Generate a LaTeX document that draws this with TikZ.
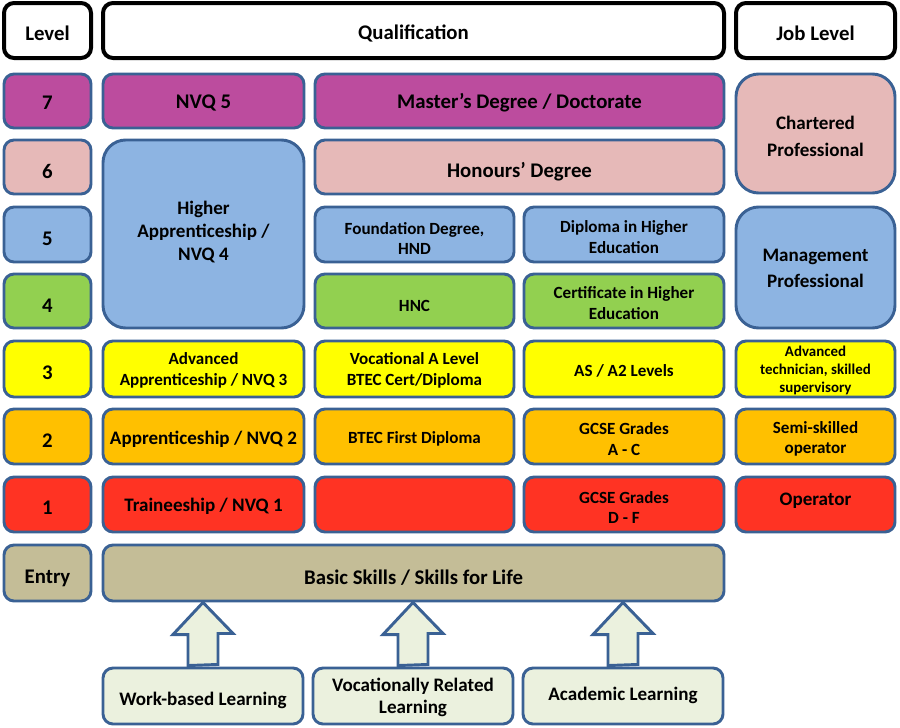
\documentclass[tikz,border=0pt]{standalone}
\usepackage{fontspec}
\setmainfont{Carlito}
\usetikzlibrary{calc}
\definecolor{bordc}{HTML}{3A6194}
\definecolor{cmag}{HTML}{BC4C9E}
\definecolor{cpink}{HTML}{E6B9B8}
\definecolor{cblue}{HTML}{8DB4E2}
\definecolor{cgreen}{HTML}{92D050}
\definecolor{cyel}{HTML}{FFFF00}
\definecolor{corange}{HTML}{FFC000}
\definecolor{cred}{HTML}{FF3323}
\definecolor{ctan}{HTML}{C4BD97}
\definecolor{clight}{HTML}{EBF1DE}
% name, x1, y1, x2, y2, shape style, text style, dy, text
\newcommand\qbox[9]{%
  \pgfmathsetmacro\qcx{(#2+#4)/2}\pgfmathsetmacro\qcy{(#3+#5)/2}%
  \pgfmathsetmacro\qty{(#3+#5)/2+#8}%
  \pgfmathsetmacro\qww{(#4-#2)*0.75}\pgfmathsetmacro\qhh{(#5-#3)*0.75}%
  \node[#6, minimum width=\qww pt, minimum height=\qhh pt] (#1) at (\qcx,\qcy) {};
  \node[txt, #7] (#1-t) at (\qcx,\qty) {#9};}
\newcommand\uparr[2]{%
  \draw[barrow] ($(#1.north)+(-15,-1)$) -- ++(0,-31) -- ++(-15,0)
    -- ($(#2.south -| #1.north)+(0,0)$) -- ++(30,31) -- ++(-15,0) -- ++(0,31) -- cycle;}
\tikzset{
  base/.style={rectangle, rounded corners=7.5pt, line width=2.2pt, draw=bordc, inner sep=0pt},
  hdr/.style={base, draw=black, line width=3pt, fill=white},
  big/.style={rounded corners=17pt},
  txt/.style={align=center, inner sep=0pt},
  xl/.style={font=\bfseries\fontsize{15.6}{18}\selectfont},
  lg/.style={font=\bfseries\fontsize{14.3}{17}\selectfont},
  lgh/.style={font=\bfseries\fontsize{14.3}{17.3}\selectfont},
  lgw/.style={font=\bfseries\fontsize{14.3}{19.8}\selectfont},
  lgb/.style={font=\bfseries\fontsize{14.3}{16.5}\selectfont},
  mid/.style={font=\bfseries\fontsize{12.8}{15.3}\selectfont},
  small/.style={font=\bfseries\fontsize{11.2}{13.5}\selectfont},
  barrow/.style={draw=bordc, line width=2.2pt, fill=clight, line join=miter},
}
\begin{document}
\begin{tikzpicture}[x=0.75pt, y=-0.75pt]
\useasboundingbox (0,0) rectangle (900,728);
% headers
\qbox{hlev}{4}{3}{91}{58}{hdr}{xl}{2.5}{Level}
\qbox{hqual}{103}{3}{724}{58}{hdr}{xl}{2.5}{Qualification}
\qbox{hjob}{736}{3}{895}{58}{hdr}{xl}{2.5}{Job Level}
% level column
\qbox{l7}{4}{74}{91}{128}{base, fill=cmag}{xl}{2}{7}
\qbox{l6}{4}{140}{91}{194}{base, fill=cpink}{xl}{4}{6}
\qbox{l5}{4}{207}{91}{262}{base, fill=cblue}{xl}{4}{5}
\qbox{l4}{4}{274}{91}{328}{base, fill=cgreen}{xl}{5}{4}
\qbox{l3}{4}{341}{91}{397}{base, fill=cyel}{xl}{4}{3}
\qbox{l2}{4}{409}{91}{464}{base, fill=corange}{xl}{4.5}{2}
\qbox{l1}{4}{477}{91}{532}{base, fill=cred}{xl}{3.5}{1}
\qbox{le}{4}{545}{91}{601}{base, fill=ctan}{xl}{5}{Entry}
% qualification
\qbox{nvq5}{103}{74}{304}{128}{base, fill=cmag}{xl}{2}{NVQ 5}
\qbox{mast}{315}{74}{724}{128}{base, fill=cmag}{xl}{2}{Master’s Degree / Doctorate}
\qbox{higher}{103}{140}{304}{328}{base, big, fill=cblue}{lgh}{-2}{Higher\\Apprenticeship /\\NVQ 4}
\qbox{hon}{315}{140}{724}{194}{base, fill=cpink}{xl}{5}{Honours’ Degree}
\qbox{fd}{315}{207}{514}{262}{base, fill=cblue}{mid}{4}{Foundation Degree,\\HND}
\qbox{dip}{524}{207}{724}{262}{base, fill=cblue}{mid}{2.5}{Diploma in Higher\\Education}
\qbox{hnc}{315}{274}{514}{328}{base, fill=cgreen}{mid}{5}{HNC}
\qbox{cert}{524}{274}{724}{328}{base, fill=cgreen}{mid}{2}{Certificate in Higher\\Education}
\qbox{adv}{103}{341}{304}{397}{base, fill=cyel}{mid}{1.5}{Advanced\\Apprenticeship / NVQ 3}
\qbox{voc}{315}{341}{514}{397}{base, fill=cyel}{mid}{1.5}{Vocational A Level\\BTEC Cert/Diploma}
\qbox{as}{524}{341}{724}{397}{base, fill=cyel}{mid}{2}{AS / A2 Levels}
\qbox{app}{103}{409}{304}{464}{base, fill=corange}{lg}{2.5}{Apprenticeship / NVQ 2}
\qbox{btec}{315}{409}{514}{464}{base, fill=corange}{mid}{2.5}{BTEC First Diploma}
\qbox{gac}{524}{409}{724}{464}{base, fill=corange}{mid}{2.5}{GCSE Grades\\A - C}
\qbox{tra}{103}{477}{304}{532}{base, fill=cred}{lg}{1.5}{Traineeship / NVQ 1}
\qbox{emp}{315}{477}{514}{532}{base, fill=cred}{mid}{0}{}
\qbox{gdf}{524}{477}{724}{532}{base, fill=cred}{mid}{3}{GCSE Grades\\D - F}
\qbox{bs}{103}{545}{724}{601}{base, fill=ctan}{xl}{5}{Basic Skills / Skills for Life}
% job level
\qbox{char}{736}{74}{895}{193}{base, big, fill=cpink}{lgw}{3}{Chartered\\Professional}
\qbox{man}{736}{207}{895}{328}{base, big, fill=cblue}{lgw}{1}{Management\\Professional}
\qbox{tech}{736}{341}{895}{397}{base, fill=cyel}{small}{1}{Advanced\\technician, skilled\\supervisory}
\qbox{semi}{736}{409}{895}{464}{base, fill=corange}{mid}{2.5}{Semi-skilled\\operator}
\qbox{op}{736}{477}{895}{532}{base, fill=cred}{lg}{-3.5}{Operator}
% bottom
\qbox{wb}{103}{668}{303}{724}{base, fill=clight}{lgb}{4}{Work-based Learning}
\qbox{vr}{313}{668}{513}{724}{base, fill=clight}{lgb}{1}{Vocationally Related\\Learning}
\qbox{ac}{523}{668}{723}{724}{base, fill=clight}{lgb}{-1}{Academic Learning}
\uparr{wb}{bs}
\uparr{vr}{bs}
\uparr{ac}{bs}
\end{tikzpicture}
\end{document}
